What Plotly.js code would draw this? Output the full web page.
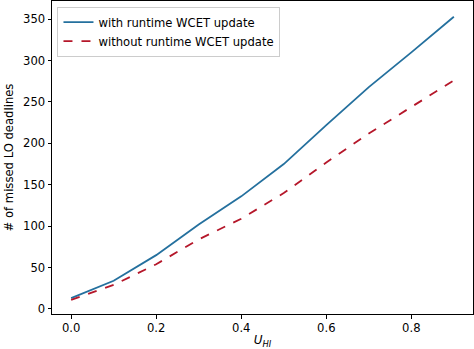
<!DOCTYPE html>
<html>
<head>
<meta charset="utf-8">
<script src="https://cdn.plot.ly/plotly-3.0.1.min.js"></script>
<style>html,body{margin:0;padding:0;background:#fff;}#chart{width:474px;height:349px;}</style>
</head>
<body>
<div id="chart"></div>
<script>
const uHI = [0.0, 0.1, 0.2, 0.3, 0.4, 0.5, 0.6, 0.7, 0.8, 0.9];
const withUpdate = [13, 34, 65, 102, 136, 175, 222, 268, 310, 353];
const withoutUpdate = [11, 29, 54, 84, 109, 140, 177, 212, 244, 276];
const seriesNames = ["with runtime WCET update", "without runtime WCET update"];
const xTicks = [0.0, 0.2, 0.4, 0.6, 0.8];
const yTicks = [0, 50, 100, 150, 200, 250, 300, 350];

const font = {family: "DejaVu Sans", size: 11.6, color: "#000"};
const axisCommon = {
  showgrid: false, zeroline: false, showline: true, mirror: true,
  linecolor: "#000", linewidth: 1, ticks: "outside", ticklen: 3.5,
  tickwidth: 1, tickcolor: "#000", tickfont: font
};

Plotly.newPlot("chart", [
  {x: uHI, y: withUpdate, name: seriesNames[0], mode: "lines",
   line: {color: "#24709e", width: 1.8}},
  {x: uHI, y: withoutUpdate, name: seriesNames[1], mode: "lines",
   line: {color: "#b5172a", width: 1.8, dash: "dash"}}
], {
  width: 474, height: 349,
  margin: {l: 52, r: 1, t: 1, b: 35},
  paper_bgcolor: "#fff", plot_bgcolor: "#fff",
  font: font,
  showlegend: true,
  legend: {x: 0.013, y: 0.982, xanchor: "left", yanchor: "top",
    bgcolor: "rgba(255,255,255,0.8)", bordercolor: "#ccc", borderwidth: 1,
    font: {family: "DejaVu Sans", size: 11.6, color: "#000"}, tracegroupgap: 0},
  xaxis: Object.assign({}, axisCommon, {
    range: [-0.045, 0.945], tickvals: xTicks, tickformat: ".1f",
    title: {text: "<i>U</i><sub><i>HI</i></sub>", font: {family: "DejaVu Sans", size: 12, color: "#000"}, standoff: 4}
  }),
  yaxis: Object.assign({}, axisCommon, {
    range: [-6.1, 372], tickvals: yTicks,
    title: {text: "# of missed LO deadlines", font: {family: "DejaVu Sans", size: 11.6, color: "#000"}, standoff: 6}
  })
}, {displayModeBar: false, staticPlot: true});
</script>
</body>
</html>
